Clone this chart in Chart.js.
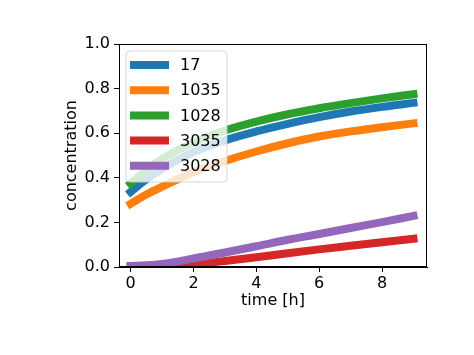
<!DOCTYPE html>
<html>
<head>
<meta charset="utf-8">
<script src="https://cdn.jsdelivr.net/npm/chart.js@4/dist/chart.umd.min.js"></script>
<style>
html,body{margin:0;padding:0;background:#fff;}
#wrap{width:474px;height:355px;position:relative;}
</style>
</head>
<body>
<div id="wrap"><canvas id="c" width="474" height="355"></canvas></div>
<script>
const times = [0, 0.5, 1, 2, 3, 4, 5, 6, 7, 8, 9];
const labels = ['17', '1035', '1028', '3035', '3028'];
const s17   = [0.337, 0.393, 0.440, 0.515, 0.568, 0.608, 0.642, 0.672, 0.697, 0.718, 0.736];
const s1035 = [0.283, 0.325, 0.360, 0.425, 0.475, 0.518, 0.555, 0.585, 0.608, 0.627, 0.644];
const s1028 = [0.374, 0.435, 0.485, 0.558, 0.612, 0.652, 0.685, 0.712, 0.735, 0.756, 0.775];
const s3035 = [0.000, 0.000, 0.002, 0.012, 0.027, 0.044, 0.062, 0.079, 0.095, 0.111, 0.127];
const s3028 = [0.005, 0.008, 0.014, 0.038, 0.065, 0.093, 0.122, 0.148, 0.175, 0.201, 0.229];
const xTicks = [0, 2, 4, 6, 8];
const yTicks = [0.0, 0.2, 0.4, 0.6, 0.8, 1.0];
const colors = ['#1f77b4', '#ff7f0e', '#2ca02c', '#d62728', '#9467bd'];
const series = [s17, s1035, s1028, s3035, s3028];

const FONT = 'DejaVu Sans';
const FS = 16;

const datasets = series.map((s, i) => ({
  label: labels[i],
  data: s.map((v, j) => ({x: times[j], y: v})),
  borderColor: colors[i],
  backgroundColor: colors[i],
  borderWidth: 8,
  borderCapStyle: 'square',
  pointRadius: 0,
  fill: false,
  cubicInterpolationMode: 'monotone',
  clip: 0,
  order: series.length - i
}));

const framePlugin = {
  id: 'frame',
  afterDatasetsDraw(chart) {
    const ctx = chart.ctx, a = chart.chartArea;
    ctx.save();
    ctx.strokeStyle = '#000';
    ctx.lineWidth = 1;
    ctx.strokeRect(a.left + 0.5, a.top + 0.5, a.right - a.left - 1, a.bottom - a.top - 1);
    // legend
    const lx = 126, ly = 51, lw = 101, lh = 131, r = 4;
    ctx.globalAlpha = 0.8;
    ctx.fillStyle = '#fff';
    ctx.beginPath();
    ctx.moveTo(lx + r, ly);
    ctx.arcTo(lx + lw, ly, lx + lw, ly + lh, r);
    ctx.arcTo(lx + lw, ly + lh, lx, ly + lh, r);
    ctx.arcTo(lx, ly + lh, lx, ly, r);
    ctx.arcTo(lx, ly, lx + lw, ly, r);
    ctx.closePath();
    ctx.fill();
    ctx.strokeStyle = '#cccccc';
    ctx.lineWidth = 1;
    ctx.stroke();
    ctx.globalAlpha = 1;
    ctx.font = FS + 'px "' + FONT + '"';
    ctx.textBaseline = 'middle';
    ctx.textAlign = 'left';
    chart.data.datasets.forEach((d, i) => {
      const y = 65 + i * 25.2;
      ctx.strokeStyle = d.borderColor;
      ctx.lineWidth = 8;
      ctx.lineCap = 'butt';
      ctx.beginPath();
      ctx.moveTo(130, y);
      ctx.lineTo(169, y);
      ctx.stroke();
      ctx.fillStyle = '#000';
      ctx.fillText(d.label, 180, y + 1);
    });
    // axis titles
    ctx.fillStyle = '#000';
    ctx.textAlign = 'center';
    ctx.textBaseline = 'middle';
    ctx.fillText('time [h]', (a.left + a.right) / 2, 301);
    ctx.save();
    ctx.translate(72, (a.top + a.bottom) / 2);
    ctx.rotate(-Math.PI / 2);
    ctx.fillText('concentration', 0, 0);
    ctx.restore();
    ctx.restore();
  }
};

new Chart(document.getElementById('c'), {
  type: 'line',
  data: {datasets},
  options: {
    responsive: false,
    animation: false,
    events: [],
    layout: {padding: {left: 0, top: 44, right: 47, bottom: 0}},
    plugins: {legend: {display: false}, tooltip: {enabled: false}},
    scales: {
      x: {
        type: 'linear',
        min: -0.37,
        max: 9.43,
        afterFit(s) { s.height = 88; },
        afterBuildTicks(s) { s.ticks = xTicks.map(v => ({value: v})); },
        ticks: {color: '#000', font: {family: FONT, size: FS}, padding: 2, maxRotation: 0,
                callback: v => String(v)},
        grid: {drawOnChartArea: false, drawTicks: true, tickLength: 5, color: '#000'},
        border: {display: true, color: '#000', width: 1}
      },
      y: {
        type: 'linear',
        min: 0,
        max: 1,
        afterFit(s) { s.width = 119; },
        afterBuildTicks(s) { s.ticks = yTicks.map(v => ({value: v})); },
        ticks: {color: '#000', font: {family: FONT, size: FS}, padding: 4,
                callback: v => Number(v).toFixed(1)},
        grid: {drawOnChartArea: false, drawTicks: true, tickLength: 5, color: '#000'},
        border: {display: true, color: '#000', width: 1}
      }
    }
  },
  plugins: [framePlugin]
});
</script>
</body>
</html>
